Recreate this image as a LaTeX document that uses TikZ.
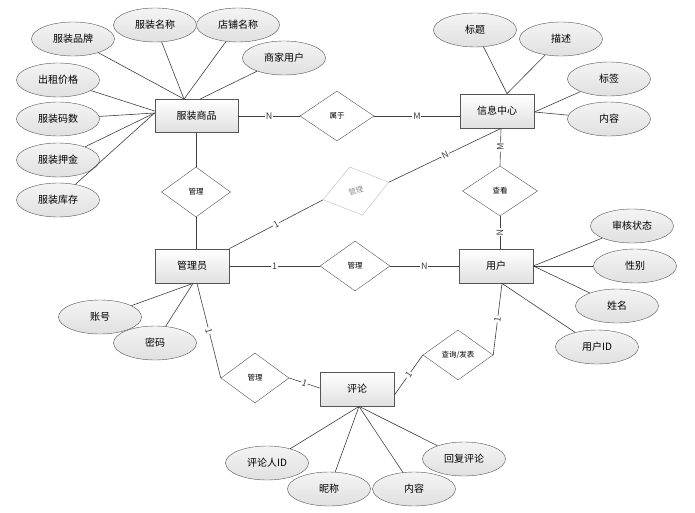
\documentclass[tikz,border=0pt]{standalone}
\usepackage{fontspec}
\setmainfont{Noto Sans CJK SC}
\usetikzlibrary{shapes.geometric}
\definecolor{ERLine}{HTML}{3F3F3F}
\definecolor{ERBorder}{HTML}{555555}
\definecolor{ERShade}{HTML}{E0E0E0}
\definecolor{ERTop}{HTML}{F4F4F4}
\definecolor{ERFaded}{HTML}{BEBEBE}
\definecolor{ERFadedText}{HTML}{8C8C8C}

\begin{document}
\begin{tikzpicture}[x=1pt,y=-1pt,
    entity/.style={draw=ERBorder,line width=0.8pt,top color=white,bottom color=ERShade,minimum width=74pt,minimum height=34pt,inner sep=0pt,font=\fontsize{10}{12}\selectfont},
    attr/.style={ellipse,draw=ERBorder,top color=ERTop,middle color=white,bottom color=ERShade,minimum width=83pt,minimum height=34pt,inner sep=0pt,font=\fontsize{10}{12}\selectfont},
    rel/.style={diamond,draw=ERBorder,fill=white,minimum width=70pt,minimum height=50pt,inner sep=0pt,font=\fontsize{7.5}{9}\selectfont},
    link/.style={ERLine,line width=0.6pt},
    card/.style={midway,sloped,fill=white,inner sep=0.8pt,font=\fontsize{9}{10}\selectfont}]
  \useasboundingbox (0,0) rectangle (695,513);
  % entities
  \node[entity,minimum width=83pt,minimum height=33pt] (goods) at (196.5,116) {服装商品};
  \node[entity] (info) at (497,111) {信息中心};
  \node[entity] (admin) at (192,266) {管理员};
  \node[entity] (user) at (496,266) {用户};
  \node[entity] (comment) at (357,389) {评论};
  % relationships
  \node[rel,minimum width=74pt] (belong) at (337,116) {属于};
  \node[rel,minimum width=69pt] (manageA) at (196,192) {管理};
  \node[rel,minimum width=68pt,draw=ERFaded,text=ERFadedText,rotate=15] (manageB) at (356,191) {管理};
  \node[rel,minimum width=75pt] (view) at (500,191) {查看};
  \node[rel] (manageC) at (355,266) {管理};
  \node[rel] (publish) at (458,355) {查询/发表};
  \node[rel,minimum width=68pt] (manageD) at (255,378) {管理};
  % attributes
  \foreach \n/\x/\y/\t in {pinpai/73/39/服装品牌, mingcheng/155/25/服装名称, dianpu/238/25/店铺名称,
      shangjia/284/58/商家用户, jiage/58/80/出租价格, mashu/58/119/服装码数, yajin/58/160/服装押金,
      kucun/58/200/服装库存, biaoti/475/30/标题, miaoshu/561/39/描述, biaoqian/609/79/标签,
      neirongA/609/119/内容, shenhe/632/226/审核状态, xingbie/635/266/性别, xingming/617/306/姓名,
      yonghuid/597/347/用户ID, zhanghao/100/317/账号, mima/155/343/密码, plrid/267/463/评论人ID,
      nicheng/329/489/昵称, neirongB/414/489/内容, huifu/464/459/回复评论} {
    \node[attr] (\n) at (\x,\y) {\t};
  }
  % attachment points on the entities
  \coordinate (goodsT) at ([xshift=-12.5pt]goods.north);
  \coordinate (goodsTR) at ([xshift=3.5pt]goods.north);
  \coordinate (goodsL1) at ([yshift=5pt]goods.west);
  \coordinate (goodsL2) at ([yshift=3pt]goods.west);
  \coordinate (infoT) at ([xshift=10pt]info.north);
  \coordinate (infoR) at ([yshift=-1pt]info.east);
  \coordinate (infoB) at ([xshift=4pt]info.south);
  \coordinate (userR) at (user.east);
  \coordinate (userB) at ([xshift=6pt]user.south);
  \coordinate (adminB) at ([xshift=1pt]admin.south);
  \coordinate (adminB2) at ([xshift=5pt]admin.south);
  \coordinate (commentB) at ([xshift=2pt]comment.south);
  \coordinate (commentL) at ([yshift=1pt]comment.west);
  \coordinate (commentR) at ([yshift=-6pt]comment.east);
  \foreach \a/\b in {pinpai/goodsT, mingcheng/goodsT, dianpu/goodsT, shangjia/goodsTR,
      jiage/goodsL1, mashu/goodsL2, yajin/goodsL2, kucun/goodsL2,
      biaoti/infoT, miaoshu/infoT, biaoqian/infoR, neirongA/infoR,
      shenhe/userR, xingbie/userR, xingming/userR, yonghuid/userB,
      zhanghao/adminB, mima/adminB,
      plrid/commentB, nicheng/commentB, neirongB/commentB, huifu/commentB} {
    \draw[link] (\a) -- (\b);
  }
  % relationship lines
  \draw[link] (goods.east) -- (belong.west) node[card] {N};
  \draw[link] (belong.east) -- (belong.east -| info.west) node[card] {M};
  \draw[link] (view.north) -- (infoB) node[card] {M};
  \draw[link] (view.south) -- (view.south |- user.north) node[card] {N};
  \draw[link] (admin.north east) -- (manageB.west) node[card] {1};
  \draw[link] (manageB.east) -- (infoB) node[card] {N};
  \draw[link] (manageA.north |- goods.south) -- (manageA.north);
  \draw[link] (manageA.south) -- (manageA.south |- admin.north);
  \draw[link] (admin.east) -- (manageC.west) node[card] {1};
  \draw[link] (manageC.east) -- (user.west) node[card] {N};
  \draw[link] (adminB2) -- (manageD.west) node[card] {1};
  \draw[link] (manageD.east) -- (commentL) node[card] {1};
  \draw[link] (commentR) -- (publish.west) node[card] {1};
  \draw[link] (publish.east) -- (userB) node[card] {1};
\end{tikzpicture}
\end{document}
